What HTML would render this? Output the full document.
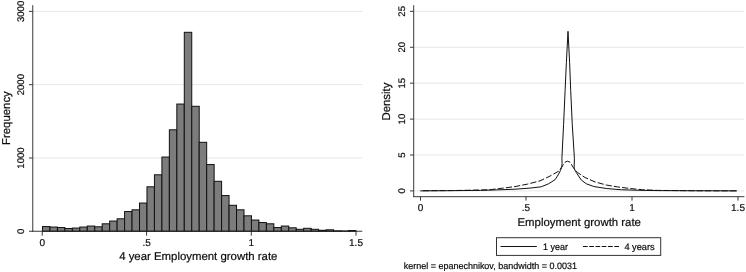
<!DOCTYPE html>
<html><head><meta charset="utf-8"><title>Employment growth rate</title>
<style>
html,body{margin:0;padding:0;background:#fff;}
svg{display:block;}
text{font-family:"Liberation Sans",Arial,sans-serif;fill:#0c0c0c;stroke:#0c0c0c;stroke-width:0.2px;text-rendering:geometricPrecision;}
.t{font-size:10px;}
.r{font-size:9.6px;}
.a{font-size:11.4px;}
.l{font-size:9.4px;}
.n{font-size:9.3px;}
</style></head><body>
<svg width="746" height="272" viewBox="0 0 746 272">
<rect width="746" height="272" fill="#fff"/>

<g id="left">
<line x1="33.2" y1="158" x2="362.3" y2="158" stroke="#e3e3e3" stroke-width="0.9"/>
<line x1="33.2" y1="84.7" x2="362.3" y2="84.7" stroke="#e3e3e3" stroke-width="0.9"/>
<line x1="33.2" y1="11.4" x2="362.3" y2="11.4" stroke="#e3e3e3" stroke-width="0.9"/>
<rect x="42.50" y="226.55" width="7.463" height="4.70" fill="#7c7c7c" stroke="#111" stroke-width="1"/>
<rect x="49.96" y="227.05" width="7.463" height="4.20" fill="#7c7c7c" stroke="#111" stroke-width="1"/>
<rect x="57.42" y="227.55" width="7.463" height="3.70" fill="#7c7c7c" stroke="#111" stroke-width="1"/>
<rect x="64.89" y="228.55" width="7.463" height="2.70" fill="#7c7c7c" stroke="#111" stroke-width="1"/>
<rect x="72.35" y="228.05" width="7.463" height="3.20" fill="#7c7c7c" stroke="#111" stroke-width="1"/>
<rect x="79.81" y="227.05" width="7.463" height="4.20" fill="#7c7c7c" stroke="#111" stroke-width="1"/>
<rect x="87.28" y="226.05" width="7.463" height="5.20" fill="#7c7c7c" stroke="#111" stroke-width="1"/>
<rect x="94.74" y="226.80" width="7.463" height="4.45" fill="#7c7c7c" stroke="#111" stroke-width="1"/>
<rect x="102.20" y="223.80" width="7.463" height="7.45" fill="#7c7c7c" stroke="#111" stroke-width="1"/>
<rect x="109.66" y="221.05" width="7.463" height="10.20" fill="#7c7c7c" stroke="#111" stroke-width="1"/>
<rect x="117.12" y="218.80" width="7.463" height="12.45" fill="#7c7c7c" stroke="#111" stroke-width="1"/>
<rect x="124.59" y="211.55" width="7.463" height="19.70" fill="#7c7c7c" stroke="#111" stroke-width="1"/>
<rect x="132.05" y="209.80" width="7.463" height="21.45" fill="#7c7c7c" stroke="#111" stroke-width="1"/>
<rect x="139.51" y="203.05" width="7.463" height="28.20" fill="#7c7c7c" stroke="#111" stroke-width="1"/>
<rect x="146.98" y="186.80" width="7.463" height="44.45" fill="#7c7c7c" stroke="#111" stroke-width="1"/>
<rect x="154.44" y="174.80" width="7.463" height="56.45" fill="#7c7c7c" stroke="#111" stroke-width="1"/>
<rect x="161.90" y="157.05" width="7.463" height="74.20" fill="#7c7c7c" stroke="#111" stroke-width="1"/>
<rect x="169.36" y="129.80" width="7.463" height="101.45" fill="#7c7c7c" stroke="#111" stroke-width="1"/>
<rect x="176.83" y="104.05" width="7.463" height="127.20" fill="#7c7c7c" stroke="#111" stroke-width="1"/>
<rect x="184.29" y="32.30" width="7.463" height="198.95" fill="#7c7c7c" stroke="#111" stroke-width="1"/>
<rect x="191.75" y="106.30" width="7.463" height="124.95" fill="#7c7c7c" stroke="#111" stroke-width="1"/>
<rect x="199.21" y="142.30" width="7.463" height="88.95" fill="#7c7c7c" stroke="#111" stroke-width="1"/>
<rect x="206.68" y="164.55" width="7.463" height="66.70" fill="#7c7c7c" stroke="#111" stroke-width="1"/>
<rect x="214.14" y="181.30" width="7.463" height="49.95" fill="#7c7c7c" stroke="#111" stroke-width="1"/>
<rect x="221.60" y="195.55" width="7.463" height="35.70" fill="#7c7c7c" stroke="#111" stroke-width="1"/>
<rect x="229.06" y="205.30" width="7.463" height="25.95" fill="#7c7c7c" stroke="#111" stroke-width="1"/>
<rect x="236.53" y="209.80" width="7.463" height="21.45" fill="#7c7c7c" stroke="#111" stroke-width="1"/>
<rect x="243.99" y="215.80" width="7.463" height="15.45" fill="#7c7c7c" stroke="#111" stroke-width="1"/>
<rect x="251.45" y="220.05" width="7.463" height="11.20" fill="#7c7c7c" stroke="#111" stroke-width="1"/>
<rect x="258.91" y="222.55" width="7.463" height="8.70" fill="#7c7c7c" stroke="#111" stroke-width="1"/>
<rect x="266.38" y="223.80" width="7.463" height="7.45" fill="#7c7c7c" stroke="#111" stroke-width="1"/>
<rect x="273.84" y="227.55" width="7.463" height="3.70" fill="#7c7c7c" stroke="#111" stroke-width="1"/>
<rect x="281.30" y="226.05" width="7.463" height="5.20" fill="#7c7c7c" stroke="#111" stroke-width="1"/>
<rect x="288.76" y="227.80" width="7.463" height="3.45" fill="#7c7c7c" stroke="#111" stroke-width="1"/>
<rect x="296.23" y="229.30" width="7.463" height="1.95" fill="#7c7c7c" stroke="#111" stroke-width="1"/>
<rect x="303.69" y="228.30" width="7.463" height="2.95" fill="#7c7c7c" stroke="#111" stroke-width="1"/>
<rect x="311.15" y="229.30" width="7.463" height="1.95" fill="#7c7c7c" stroke="#111" stroke-width="1"/>
<rect x="318.61" y="230.30" width="7.463" height="0.95" fill="#7c7c7c" stroke="#111" stroke-width="1"/>
<rect x="326.07" y="229.80" width="7.463" height="1.45" fill="#7c7c7c" stroke="#111" stroke-width="1"/>
<rect x="333.54" y="230.80" width="7.463" height="0.45" fill="#7c7c7c" stroke="#111" stroke-width="1"/>
<rect x="341.00" y="230.95" width="7.463" height="0.30" fill="#7c7c7c" stroke="#111" stroke-width="1"/>
<rect x="348.46" y="230.55" width="7.463" height="0.70" fill="#7c7c7c" stroke="#111" stroke-width="1"/>
<line x1="32.75" y1="5.2" x2="32.75" y2="231.7" stroke="#222" stroke-width="0.9"/>
<line x1="32.3" y1="231.25" x2="362.3" y2="231.25" stroke="#222" stroke-width="0.9"/>
<line x1="29" y1="231.25" x2="32.75" y2="231.25" stroke="#222" stroke-width="0.9"/>
<text class="r" transform="translate(24,231.25) rotate(-90)" text-anchor="middle">0</text>
<line x1="29" y1="158" x2="32.75" y2="158" stroke="#222" stroke-width="0.9"/>
<text class="r" transform="translate(24,158) rotate(-90)" text-anchor="middle">1000</text>
<line x1="29" y1="84.7" x2="32.75" y2="84.7" stroke="#222" stroke-width="0.9"/>
<text class="r" transform="translate(24,84.7) rotate(-90)" text-anchor="middle">2000</text>
<line x1="29" y1="11.4" x2="32.75" y2="11.4" stroke="#222" stroke-width="0.9"/>
<text class="r" transform="translate(24,11.4) rotate(-90)" text-anchor="middle">3000</text>
<line x1="42.25" y1="231.25" x2="42.25" y2="235.7" stroke="#222" stroke-width="0.9"/>
<text class="t" x="42.25" y="246.1" text-anchor="middle">0</text>
<line x1="146.6" y1="231.25" x2="146.6" y2="235.7" stroke="#222" stroke-width="0.9"/>
<text class="t" x="146.6" y="246.1" text-anchor="middle">.5</text>
<line x1="251.3" y1="231.25" x2="251.3" y2="235.7" stroke="#222" stroke-width="0.9"/>
<text class="t" x="251.3" y="246.1" text-anchor="middle">1</text>
<line x1="356" y1="231.25" x2="356" y2="235.7" stroke="#222" stroke-width="0.9"/>
<text class="t" x="356" y="246.1" text-anchor="middle">1.5</text>
<text class="a" transform="translate(9.7,118.1) rotate(-90)" text-anchor="middle">Frequency</text>
<text class="a" x="198.3" y="260" text-anchor="middle">4 year Employment growth rate</text>
</g>
<g id="right">
<line x1="414.2" y1="190.90" x2="744.3" y2="190.90" stroke="#e3e3e3" stroke-width="0.9"/>
<line x1="414.2" y1="154.99" x2="744.3" y2="154.99" stroke="#e3e3e3" stroke-width="0.9"/>
<line x1="414.2" y1="119.08" x2="744.3" y2="119.08" stroke="#e3e3e3" stroke-width="0.9"/>
<line x1="414.2" y1="83.17" x2="744.3" y2="83.17" stroke="#e3e3e3" stroke-width="0.9"/>
<line x1="414.2" y1="47.26" x2="744.3" y2="47.26" stroke="#e3e3e3" stroke-width="0.9"/>
<line x1="414.2" y1="11.35" x2="744.3" y2="11.35" stroke="#e3e3e3" stroke-width="0.9"/>
<line x1="413.7" y1="5.2" x2="413.7" y2="196.9" stroke="#222" stroke-width="0.9"/>
<line x1="413.3" y1="196.7" x2="744.4" y2="196.7" stroke="#222" stroke-width="0.9"/>
<line x1="410" y1="190.90" x2="413.7" y2="190.90" stroke="#222" stroke-width="0.9"/>
<text class="r" transform="translate(405.4,190.90) rotate(-90)" text-anchor="middle">0</text>
<line x1="410" y1="154.99" x2="413.7" y2="154.99" stroke="#222" stroke-width="0.9"/>
<text class="r" transform="translate(405.4,154.99) rotate(-90)" text-anchor="middle">5</text>
<line x1="410" y1="119.08" x2="413.7" y2="119.08" stroke="#222" stroke-width="0.9"/>
<text class="r" transform="translate(405.4,119.08) rotate(-90)" text-anchor="middle">10</text>
<line x1="410" y1="83.17" x2="413.7" y2="83.17" stroke="#222" stroke-width="0.9"/>
<text class="r" transform="translate(405.4,83.17) rotate(-90)" text-anchor="middle">15</text>
<line x1="410" y1="47.26" x2="413.7" y2="47.26" stroke="#222" stroke-width="0.9"/>
<text class="r" transform="translate(405.4,47.26) rotate(-90)" text-anchor="middle">20</text>
<line x1="410" y1="11.35" x2="413.7" y2="11.35" stroke="#222" stroke-width="0.9"/>
<text class="r" transform="translate(405.4,11.35) rotate(-90)" text-anchor="middle">25</text>
<line x1="420.5" y1="196.7" x2="420.5" y2="200.6" stroke="#222" stroke-width="0.9"/>
<text class="t" x="420.5" y="210.9" text-anchor="middle">0</text>
<line x1="526" y1="196.7" x2="526" y2="200.6" stroke="#222" stroke-width="0.9"/>
<text class="t" x="526" y="210.9" text-anchor="middle">.5</text>
<line x1="632" y1="196.7" x2="632" y2="200.6" stroke="#222" stroke-width="0.9"/>
<text class="t" x="632" y="210.9" text-anchor="middle">1</text>
<line x1="738" y1="196.7" x2="738" y2="200.6" stroke="#222" stroke-width="0.9"/>
<text class="t" x="738" y="210.9" text-anchor="middle">1.5</text>
<text class="a" transform="translate(389.8,101.6) rotate(-90)" text-anchor="middle">Density</text>
<text class="a" x="579.2" y="226.3" text-anchor="middle">Employment growth rate</text>
<polyline points="420.5,190.90 450,190.70 480.5,190.40 500,189.80 515,189.20 530,188.10 541.25,186.80 548.75,183.70 555,179.70 558.1,175.00 560.3,170.80 561.7,167.30 562.1,163.80 561.9,158.30 563.6,124.30 565.1,90.30 566.4,62.30 568,31.30 569.6,62.30 570.7,90.30 572.25,124.30 574.4,158.30 574.1,168.60 576.25,172.50 581.25,180.00 586.25,183.75 593.75,186.50 606.25,188.50 621.25,189.75 640,190.30 658,190.60 700,190.80 737,190.90" fill="none" stroke="#111" stroke-width="1" stroke-linejoin="round"/>
<polyline points="420.5,190.70 455,190.50 480.5,190.00 490,189.70 502.5,188.20 515,186.60 527.5,184.10 540,180.90 550,176.10 558.75,171.10 562.5,165.90 565,162.20 567.4,161.20 570.2,162.20 573,167.10 577.5,172.50 585,177.50 595,181.90 606.25,185.00 617.5,186.90 630,188.50 642.5,189.75 658,190.40 690,190.70 737,190.80" fill="none" stroke="#111" stroke-width="1" stroke-dasharray="6.2 2.1" stroke-dashoffset="5.80" stroke-linejoin="round"/>
<rect x="496.5" y="237.7" width="164.2" height="17.7" fill="#fff" stroke="#333" stroke-width="1"/>
<line x1="500.5" y1="246.5" x2="536.8" y2="246.5" stroke="#111" stroke-width="1"/>
<text class="l" x="543" y="250.1" textLength="24.9" lengthAdjust="spacingAndGlyphs">1 year</text>
<line x1="583" y1="246.5" x2="619.3" y2="246.5" stroke="#111" stroke-width="1" stroke-dasharray="4.7 1.55"/>
<text class="l" x="624.4" y="250.1" textLength="30.3" lengthAdjust="spacingAndGlyphs">4 years</text>
<text class="n" x="403.7" y="269" textLength="173.2" lengthAdjust="spacingAndGlyphs">kernel = epanechnikov, bandwidth = 0.0031</text>
</g>
</svg></body></html>
